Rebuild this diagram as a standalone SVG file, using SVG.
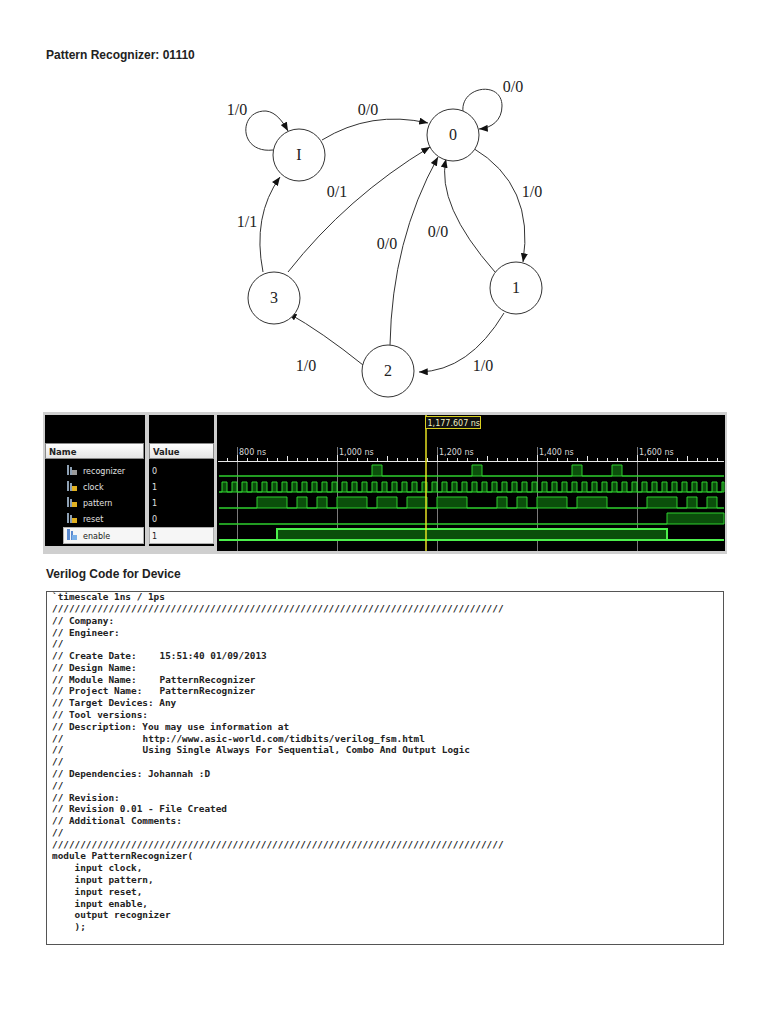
<svg xmlns="http://www.w3.org/2000/svg" width="768" height="1024" viewBox="0 0 768 1024">
<defs>
<style>
.h{font-family:"Liberation Sans",Arial,sans-serif;font-weight:bold;font-size:12px;fill:#222}
.st{fill:#fff;stroke:#333;stroke-width:1}
.nl{font-family:"Liberation Serif","Times New Roman",serif;font-size:16px;fill:#222;text-anchor:middle}
.el{font-family:"Liberation Serif","Times New Roman",serif;font-size:16px;fill:#222;text-anchor:middle}
.cn{fill:none;stroke:#333;stroke-width:1;marker-end:url(#ah)}
.wt{font-family:"DejaVu Sans",Verdana,sans-serif;font-size:8px;fill:#e0e0e0}
.wd{font-family:"DejaVu Sans",Verdana,sans-serif;font-size:8px;fill:#222}
.hd{font-family:"DejaVu Sans",Verdana,sans-serif;font-size:8.5px;font-weight:bold;fill:#222}
.tl{font-family:"DejaVu Sans",Verdana,sans-serif;font-size:8px;fill:#d8d8d8}
.cl{font-family:"DejaVu Sans",Verdana,sans-serif;font-size:8px;fill:#f0f0c0}
.sig{fill:#0b4f0b;stroke:#2fd02f;stroke-width:1}
.en{fill:#0b4f0b;stroke:#4cf04c;stroke-width:2}
.code{font-family:"DejaVu Sans Mono","Liberation Mono",monospace;font-size:9.4px;font-weight:bold;fill:#222}
</style>
<marker id="ah" viewBox="0 0 10 8" refX="10" refY="4" markerWidth="9" markerHeight="7" markerUnits="userSpaceOnUse" orient="auto">
<path d="M0,0 L10,4 L0,8 z" fill="#111"/>
</marker>
<linearGradient id="hg" x1="0" y1="0" x2="0" y2="1">
<stop offset="0" stop-color="#ffffff"/>
<stop offset="1" stop-color="#e4e4e4"/>
</linearGradient>
</defs>
<rect width="768" height="1024" fill="#fff"/>

<text class="h" x="46" y="59">Pattern Recognizer: 01110</text>

<!-- State diagram -->
<g id="connectors">
<path class="cn" d="M273,150 C238,154 238,110 266,111 C276,112 283,122 288,131"/>
<path class="cn" d="M322,140 Q371,110 428,123"/>
<path class="cn" d="M463,112 C460,86 502,80 502,106 C502,120 492,128 479,129"/>
<path class="cn" d="M473,148 Q535,185 523,262"/>
<path class="cn" d="M495,272 Q436,205 446,159"/>
<path class="cn" d="M390,345 Q392,240 438,157"/>
<path class="cn" d="M288,272 Q347,197 430,147"/>
<path class="cn" d="M263,272 Q252,216 280,177"/>
<path class="cn" d="M363,365 Q322,332 288,313"/>
<path class="cn" d="M504,313 Q469,371 419,372"/>
<text class="el" x="237" y="115">1/0</text>
<text class="el" x="368" y="115">0/0</text>
<text class="el" x="513" y="92">0/0</text>
<text class="el" x="532" y="197">1/0</text>
<text class="el" x="337" y="197">0/1</text>
<text class="el" x="247" y="227">1/1</text>
<text class="el" x="438" y="237">0/0</text>
<text class="el" x="387" y="249">0/0</text>
<text class="el" x="306" y="371">1/0</text>
<text class="el" x="483" y="371">1/0</text>
</g>
<g id="node-0"><circle class="st" cx="453" cy="135" r="26"/><text class="nl" x="453" y="140">0</text></g>
<g id="node-I"><circle class="st" cx="299" cy="155" r="26"/><text class="nl" x="299" y="160">I</text></g>
<g id="node-3"><circle class="st" cx="274" cy="298" r="26"/><text class="nl" x="274" y="303">3</text></g>
<g id="node-2"><circle class="st" cx="388" cy="371" r="26"/><text class="nl" x="388" y="376">2</text></g>
<g id="node-1"><circle class="st" cx="516" cy="288" r="26"/><text class="nl" x="516" y="293">1</text></g>

<!-- Waveform viewer -->
<g id="waveform">
<rect x="43" y="412" width="684" height="142" fill="#cfcfcf"/>
<rect x="45" y="415" width="100" height="131" fill="#000"/>
<rect x="149" y="415" width="65" height="131" fill="#000"/>
<rect x="217" y="415" width="508" height="136" fill="#000"/>
<rect x="45.5" y="443.5" width="98" height="15" fill="url(#hg)" stroke="#8a8a8a"/>
<rect x="149.5" y="443.5" width="64" height="15" fill="url(#hg)" stroke="#8a8a8a"/>
<text class="hd" x="49" y="455">Name</text>
<text class="hd" x="153" y="455">Value</text>
<rect x="63.5" y="527.5" width="80" height="16" fill="#f6f6f6" stroke="#b0b0b0"/>
<rect x="149.5" y="527.5" width="64" height="16" fill="#f6f6f6" stroke="#b0b0b0"/>
<g fill="#8da0b4">
<rect x="67" y="465" width="2" height="10"/><rect x="70" y="467" width="2" height="8"/>
<rect x="67" y="481" width="2" height="10"/><rect x="70" y="483" width="2" height="8"/>
<rect x="67" y="497" width="2" height="10"/><rect x="70" y="499" width="2" height="8"/>
<rect x="67" y="513" width="2" height="10"/><rect x="70" y="515" width="2" height="8"/>
<rect x="67" y="529" width="3" height="11" fill="#5a8ad0"/><rect x="71" y="531" width="2" height="9" fill="#5a8ad0"/>
</g>
<rect x="72" y="470" width="5" height="5" fill="#9a9a9a"/>
<rect x="72" y="486" width="5" height="5" fill="#e0b020"/>
<rect x="72" y="502" width="5" height="5" fill="#e0b020"/>
<rect x="72" y="518" width="5" height="5" fill="#e0b020"/>
<rect x="72" y="535" width="5" height="5" fill="#7ab0e8"/>
<text class="wt" x="83" y="474">recognizer</text>
<text class="wt" x="83" y="490">clock</text>
<text class="wt" x="83" y="506">pattern</text>
<text class="wt" x="83" y="522">reset</text>
<text class="wd" x="83" y="539">enable</text>
<text class="wt" x="152" y="474">0</text>
<text class="wt" x="152" y="490">1</text>
<text class="wt" x="152" y="506">1</text>
<text class="wt" x="152" y="522">0</text>
<text class="wd" x="152" y="539">1</text>
<!-- grid -->
<g stroke="#7a7a7a" stroke-width="1">
<line x1="237.5" y1="447" x2="237.5" y2="551"/>
<line x1="337.5" y1="447" x2="337.5" y2="551"/>
<line x1="437.5" y1="447" x2="437.5" y2="551"/>
<line x1="537.5" y1="447" x2="537.5" y2="551"/>
<line x1="637.5" y1="447" x2="637.5" y2="551"/>
</g>
<line x1="218" y1="461.5" x2="724" y2="461.5" stroke="#e8e8e8"/>
<path stroke="#e8e8e8" stroke-width="1" d="M227.5,461v-3M237.5,461v-6M247.5,461v-3M257.5,461v-3M267.5,461v-3M277.5,461v-3M287.5,461v-5M297.5,461v-3M307.5,461v-3M317.5,461v-3M327.5,461v-3M337.5,461v-6M347.5,461v-3M357.5,461v-3M367.5,461v-3M377.5,461v-3M387.5,461v-5M397.5,461v-3M407.5,461v-3M417.5,461v-3M427.5,461v-3M437.5,461v-6M447.5,461v-3M457.5,461v-3M467.5,461v-3M477.5,461v-3M487.5,461v-5M497.5,461v-3M507.5,461v-3M517.5,461v-3M527.5,461v-3M537.5,461v-6M547.5,461v-3M557.5,461v-3M567.5,461v-3M577.5,461v-3M587.5,461v-5M597.5,461v-3M607.5,461v-3M617.5,461v-3M627.5,461v-3M637.5,461v-6M647.5,461v-3M657.5,461v-3M667.5,461v-3M677.5,461v-3M687.5,461v-5M697.5,461v-3M707.5,461v-3M717.5,461v-3"/>
<text class="tl" x="239" y="455">800 ns</text>
<text class="tl" x="339" y="455">1,000 ns</text>
<text class="tl" x="439" y="455">1,200 ns</text>
<text class="tl" x="539" y="455">1,400 ns</text>
<text class="tl" x="639" y="455">1,600 ns</text>
<!-- signals -->
<path class="sig" d="M219,476 H372 V465 H382 V476 H472 V465 H482 V476 H572 V465 H582 V476 H612 V465 H622 V476 H724 Z"/>
<path class="sig" d="M219,492 H222
v-10h5v10h5v-10h5v10h5v-10h5v10h5v-10h5v10h5v-10h5v10h5v-10h5v10h5v-10h5v10h5v-10h5v10h5v-10h5v10h5v-10h5v10h5
v-10h5v10h5v-10h5v10h5v-10h5v10h5v-10h5v10h5v-10h5v10h5v-10h5v10h5v-10h5v10h5v-10h5v10h5v-10h5v10h5v-10h5v10h5
v-10h5v10h5v-10h5v10h5v-10h5v10h5v-10h5v10h5v-10h5v10h5v-10h5v10h5v-10h5v10h5v-10h5v10h5v-10h5v10h5v-10h5v10h5
v-10h5v10h5v-10h5v10h5v-10h5v10h5v-10h5v10h5v-10h5v10h5v-10h5v10h5v-10h5v10h5v-10h5v10h5v-10h5v10h5v-10h5v10h5
v-10h5v10h5v-10h5v10h5v-10h5v10h5v-10h5v10h5v-10h5v10h5v-10h5v10h5v-10h5v10h5v-10h5v10h5v-10h5v10h5v-10h5v10h5
v-10h2V492Z"/>
<path class="sig" d="M219,508 H257 V497 H287 V508 H297 V497 H307 V508 H317 V497 H327 V508 H337 V497 H367 V508 H377 V497 H397 V508 H407 V497 H427 V508 H437 V497 H467 V508 H497 V497 H507 V508 H517 V497 H527 V508 H537 V497 H567 V508 H577 V497 H607 V508 H647 V497 H677 V508 H687 V497 H697 V508 H707 V497 H717 V508 H724 Z"/>
<path class="sig" d="M219,524 H667 V513 H724 V524 Z"/>
<path class="en" d="M219,540 H277 V529 H667 V540 H724 Z"/>
<!-- cursor -->
<line x1="426" y1="415" x2="426" y2="551" stroke="#e6e020" stroke-width="1.5"/>
<rect x="425.5" y="416.5" width="55" height="12" fill="#111" stroke="#d8cf20"/>
<text class="cl" x="427.5" y="426">1,177.607 ns</text>
</g>

<text class="h" x="46" y="578">Verilog Code for Device</text>

<g id="code">
<rect x="46.5" y="591.5" width="677" height="353" fill="#fff" stroke="#555"/>
<g class="code">
<text x="52" y="600.2">`timescale 1ns / 1ps</text>
<text x="52" y="612.0">////////////////////////////////////////////////////////////////////////////////</text>
<text x="52" y="623.8">// Company:</text>
<text x="52" y="635.5">// Engineer:</text>
<text x="52" y="647.3">//</text>
<text x="52" y="659.1">// Create Date:<tspan x="159.5">15:51:40 01/09/2013</tspan></text>
<text x="52" y="670.9">// Design Name:</text>
<text x="52" y="682.7">// Module Name:<tspan x="159.5">PatternRecognizer</tspan></text>
<text x="52" y="694.4">// Project Name:<tspan x="159.5">PatternRecognizer</tspan></text>
<text x="52" y="706.2">// Target Devices: Any</text>
<text x="52" y="718.0">// Tool versions:</text>
<text x="52" y="729.8">// Description: You may use information at</text>
<text x="52" y="741.6">//<tspan x="142.6">http://www.asic-world.com/tidbits/verilog_fsm.html</tspan></text>
<text x="52" y="753.3">//<tspan x="142.6">Using Single Always For Sequential, Combo And Output Logic</tspan></text>
<text x="52" y="765.1">//</text>
<text x="52" y="776.9">// Dependencies: Johannah :D</text>
<text x="52" y="788.7">//</text>
<text x="52" y="800.5">// Revision:</text>
<text x="52" y="812.2">// Revision 0.01 - File Created</text>
<text x="52" y="824.0">// Additional Comments:</text>
<text x="52" y="835.8">//</text>
<text x="52" y="847.6">////////////////////////////////////////////////////////////////////////////////</text>
<text x="52" y="859.4">module PatternRecognizer(</text>
<text x="74.6" y="871.1">input clock,</text>
<text x="74.6" y="882.9">input pattern,</text>
<text x="74.6" y="894.7">input reset,</text>
<text x="74.6" y="906.5">input enable,</text>
<text x="74.6" y="918.3">output recognizer</text>
<text x="74.6" y="930.0">);</text>
</g>
</g>
</svg>
